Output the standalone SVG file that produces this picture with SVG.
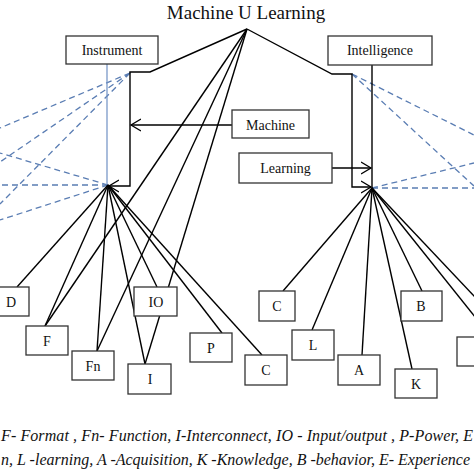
<svg xmlns="http://www.w3.org/2000/svg" width="474" height="474" viewBox="0 0 474 474">
<style>
.bx{fill:#fff;stroke:#333;stroke-width:1.3}
.ln{fill:none;stroke:#000;stroke-width:1.4}
.ds{fill:none;stroke:#5a7db3;stroke-width:1.3;stroke-dasharray:6,4}
.bl{fill:none;stroke:#6f90c4;stroke-width:1.2}
.t{font-family:"Liberation Serif","Times New Roman",serif;font-size:14px;fill:#111;text-anchor:middle}
.ttl{font-family:"Liberation Serif","Times New Roman",serif;font-size:19px;fill:#111;text-anchor:middle}
.lg{font-family:"Liberation Serif","Times New Roman",serif;font-size:16px;font-style:italic;fill:#111}
</style>
<defs>
<marker id="ah" markerUnits="userSpaceOnUse" markerWidth="12" markerHeight="14" refX="10" refY="7" orient="auto">
<path d="M0,1 L10,7 L0,13" fill="none" stroke="#000" stroke-width="1.3"/>
</marker>
</defs>
<rect width="474" height="474" fill="#fff"/>
<text class="ttl" x="246" y="18.5">Machine U Learning</text>
<g id="connectors">
<g id="dashed">
<line class="ds" x1="130" y1="73" x2="0" y2="128"/>
<line class="ds" x1="130" y1="73" x2="0" y2="162"/>
<line class="ds" x1="130" y1="73" x2="0" y2="204"/>
<line class="ds" x1="108" y1="185" x2="0" y2="153"/>
<line class="ds" x1="108" y1="185" x2="0" y2="185"/>
<line class="ds" x1="108" y1="185" x2="0" y2="220"/>
<line class="ds" x1="352" y1="74" x2="474" y2="135"/>
<line class="ds" x1="352" y1="74" x2="474" y2="186"/>
<line class="ds" x1="372" y1="188" x2="474" y2="163"/>
<line class="ds" x1="372" y1="188" x2="474" y2="188"/>
</g>
<line class="bl" x1="107" y1="64" x2="107" y2="185"/>
<line class="ln" x1="372" y1="65" x2="372" y2="188"/>
<polyline class="ln" points="247,29 150,72 130,72 130,186 109,186" marker-end="url(#ah)"/>
<polyline class="ln" points="247,29 332,74 352,74 352,187 371,187" marker-end="url(#ah)"/>
<line class="ln" x1="232" y1="125" x2="131" y2="125" marker-end="url(#ah)"/>
<line class="ln" x1="332" y1="168" x2="371" y2="168" marker-end="url(#ah)"/>
<line class="ln" x1="108" y1="185" x2="17" y2="287"/>
<line class="ln" x1="108" y1="185" x2="45" y2="326"/>
<line class="ln" x1="108" y1="185" x2="97" y2="351"/>
<line class="ln" x1="108" y1="185" x2="145" y2="364"/>
<line class="ln" x1="108" y1="185" x2="157" y2="287"/>
<line class="ln" x1="108" y1="185" x2="222" y2="333"/>
<line class="ln" x1="108" y1="185" x2="262" y2="355"/>
<line class="ln" x1="247" y1="29" x2="45" y2="326"/>
<line class="ln" x1="247" y1="29" x2="97" y2="351"/>
<line class="ln" x1="247" y1="29" x2="145" y2="364"/>
<line class="ln" x1="372" y1="188" x2="283" y2="291"/>
<line class="ln" x1="372" y1="188" x2="312" y2="330"/>
<line class="ln" x1="372" y1="188" x2="362" y2="355"/>
<line class="ln" x1="372" y1="188" x2="412" y2="369"/>
<line class="ln" x1="372" y1="188" x2="422" y2="291"/>
<line class="ln" x1="372" y1="188" x2="510" y2="334"/>
<line class="ln" x1="372" y1="188" x2="491" y2="337"/>
</g>
<g id="n-instrument"><rect class="bx" x="66" y="36" width="92" height="28"/><text class="t" x="112" y="55">Instrument</text></g>
<g id="n-intelligence"><rect class="bx" x="328" y="36" width="104" height="29"/><text class="t" x="380" y="55">Intelligence</text></g>
<g id="n-machine"><rect class="bx" x="232" y="110" width="77" height="28"/><text class="t" x="270.5" y="130">Machine</text></g>
<g id="n-learning"><rect class="bx" x="239" y="153" width="93" height="30"/><text class="t" x="285.5" y="173">Learning</text></g>
<g id="n-d"><rect class="bx" x="-13" y="287" width="42" height="29"/><text class="t" x="11" y="306.5">D</text></g>
<g id="n-f"><rect class="bx" x="26" y="326" width="42" height="29"/><text class="t" x="47" y="345.5">F</text></g>
<g id="n-fn"><rect class="bx" x="72" y="351" width="42" height="29"/><text class="t" x="93" y="370.5">Fn</text></g>
<g id="n-i"><rect class="bx" x="128" y="364" width="43" height="30"/><text class="t" x="150" y="384">I</text></g>
<g id="n-io"><rect class="bx" x="134" y="287" width="43" height="29"/><text class="t" x="156" y="306.5">IO</text></g>
<g id="n-p"><rect class="bx" x="190" y="333" width="42" height="29"/><text class="t" x="211" y="352.5">P</text></g>
<g id="n-c1"><rect class="bx" x="245" y="355" width="42" height="30"/><text class="t" x="266" y="375">C</text></g>
<g id="n-c2"><rect class="bx" x="259" y="291" width="36" height="30"/><text class="t" x="277" y="311">C</text></g>
<g id="n-l"><rect class="bx" x="292" y="330" width="42" height="30"/><text class="t" x="313" y="350">L</text></g>
<g id="n-a"><rect class="bx" x="338" y="355" width="42" height="30"/><text class="t" x="359" y="375">A</text></g>
<g id="n-k"><rect class="bx" x="395" y="369" width="42" height="29"/><text class="t" x="416" y="388.5">K</text></g>
<g id="n-b"><rect class="bx" x="401" y="291" width="41" height="30"/><text class="t" x="421" y="311">B</text></g>
<g id="n-e"><rect class="bx" x="457" y="337" width="42" height="29"/></g>
<text class="lg" x="1" y="441" textLength="472" lengthAdjust="spacing">F- Format , Fn- Function,  I-Interconnect, IO - Input/output , P-Power, E</text>
<text class="lg" x="1" y="465" textLength="469" lengthAdjust="spacing">n, L -learning, A -Acquisition, K -Knowledge, B -behavior, E- Experience</text>
</svg>
